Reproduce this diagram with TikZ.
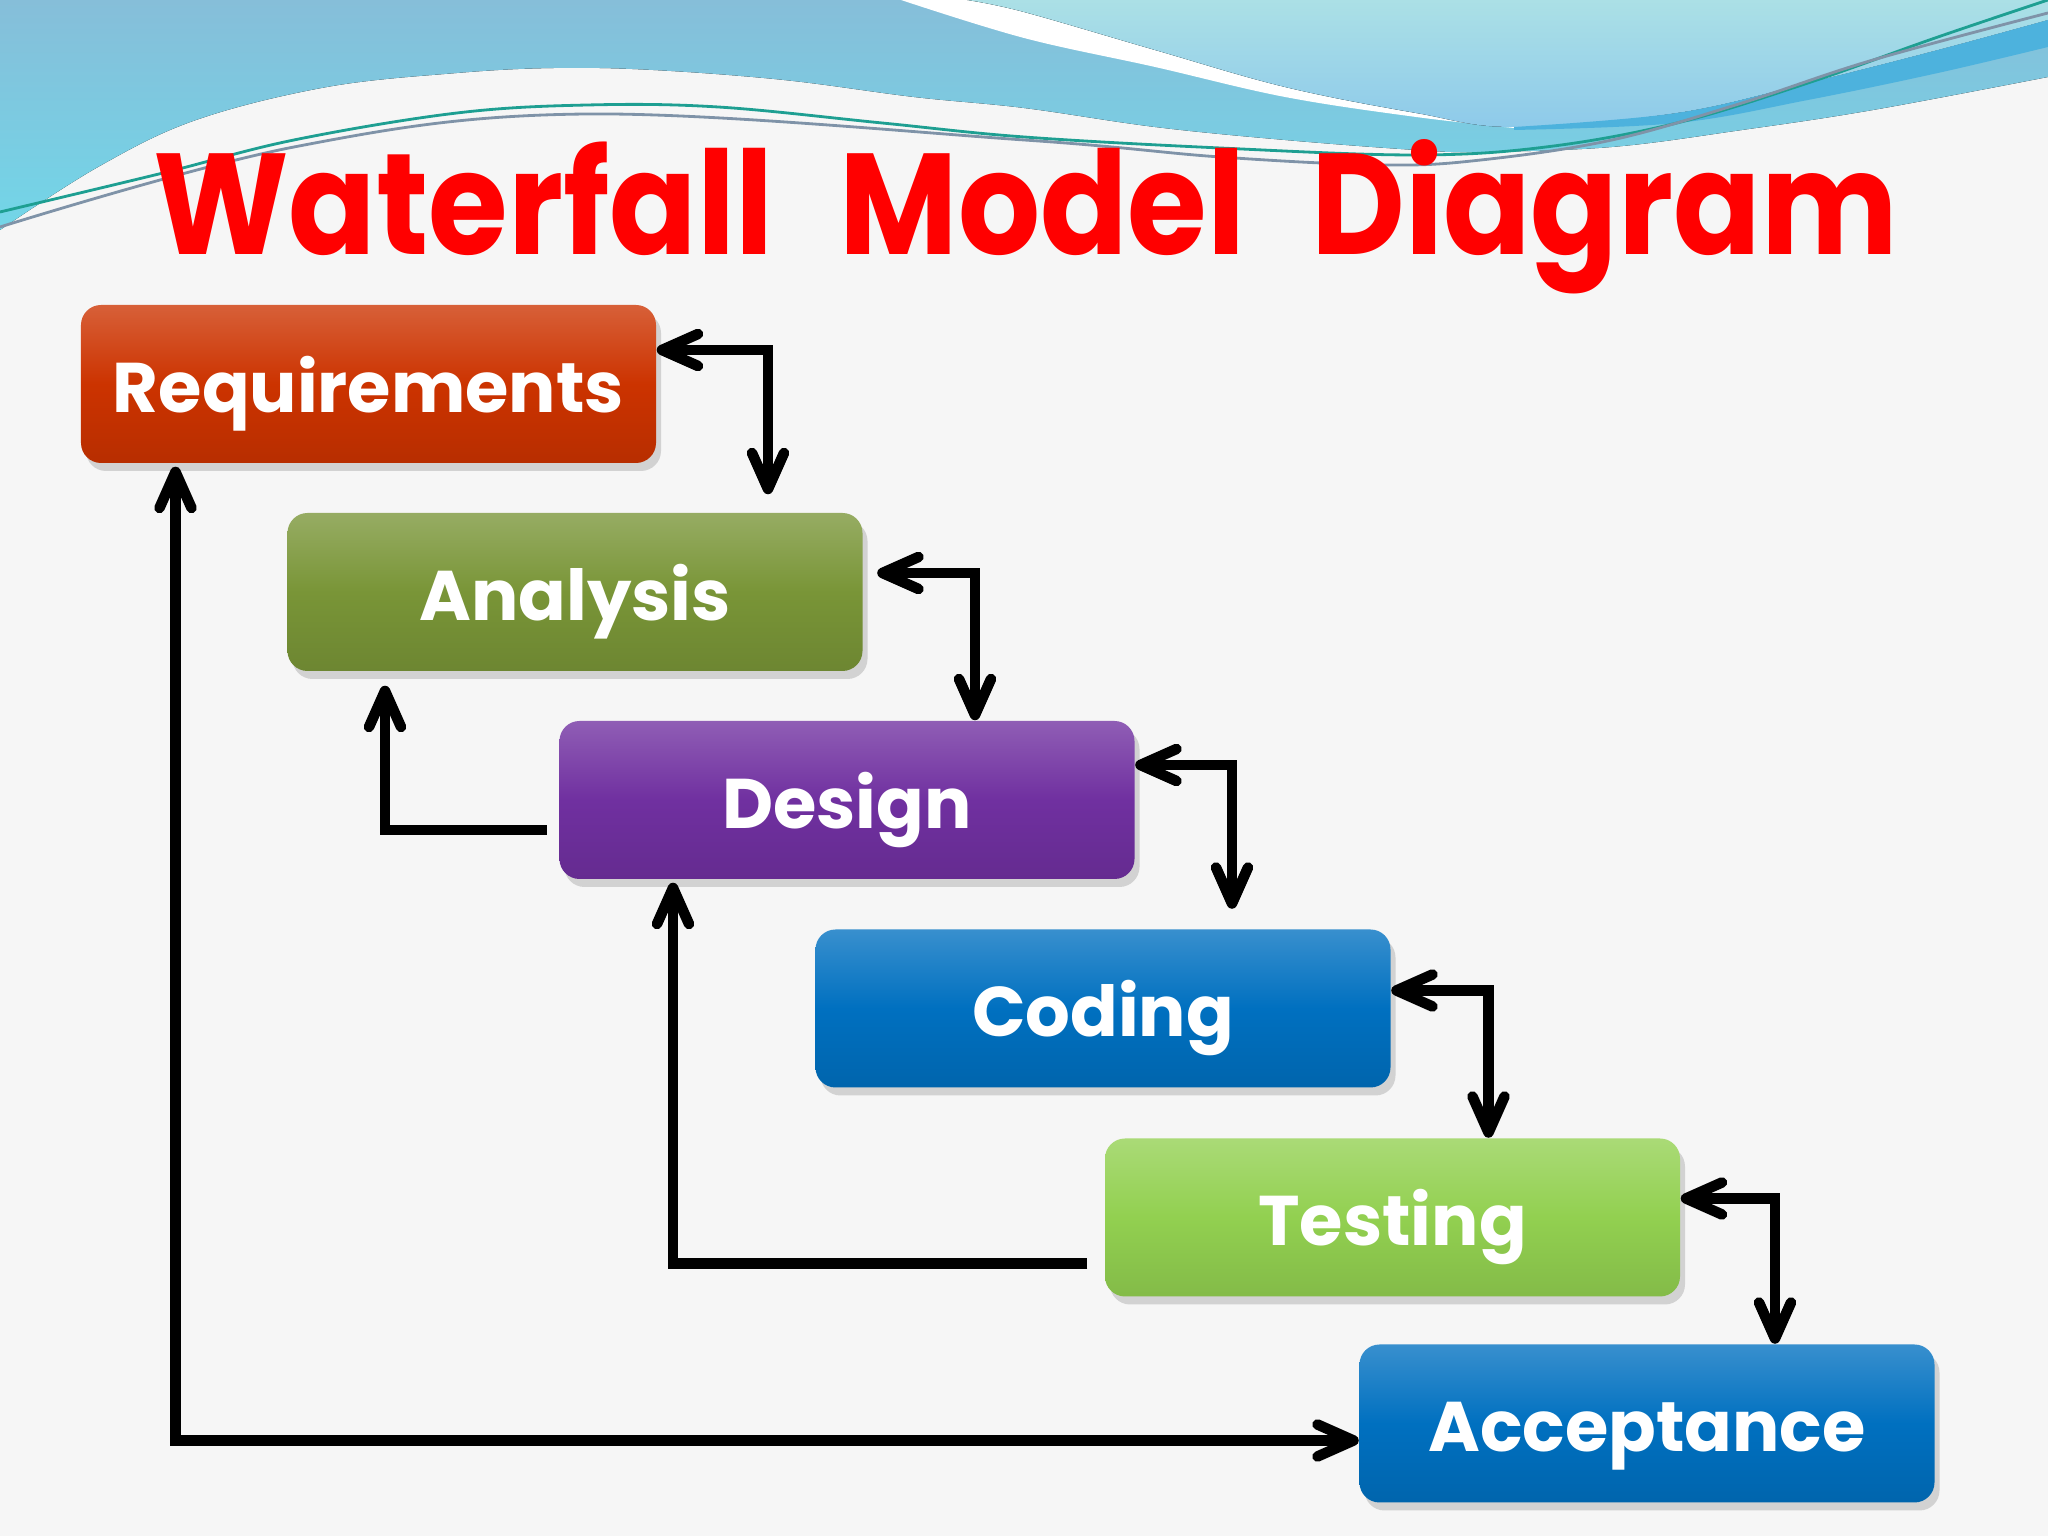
\documentclass[tikz,border=0pt]{standalone}
\usepackage{fontspec}
\setmainfont{Poppins}
\usepackage{graphicx}
\usetikzlibrary{arrows.meta,shadows}
\definecolor{pagebg}{HTML}{F6F6F6}
\definecolor{waveA}{HTML}{86BED9}
\definecolor{waveAlow}{HTML}{72D6E8}
\definecolor{waveB}{HTML}{ABE0E6}
\definecolor{waveBlow}{HTML}{8ECAEA}
\definecolor{waveband}{HTML}{4DB2DD}
\definecolor{teal}{HTML}{1E9F92}
\definecolor{steel}{HTML}{7F93A8}
\definecolor{titlered}{HTML}{FF0000}
\definecolor{reqred}{HTML}{CC3300}
\definecolor{anagreen}{HTML}{799537}
\definecolor{despurple}{HTML}{7030A0}
\definecolor{codblue}{HTML}{0070C0}
\definecolor{tesgreen}{HTML}{92D050}

\begin{document}
\begin{tikzpicture}[
  stage/.style={rounded corners=2mm, minimum width=57.5mm, minimum height=15.8mm,
    font=\fontsize{20}{24}\selectfont\bfseries, text=white, text height=16pt, text depth=0pt,
    top color=#1!78!white, bottom color=#1!90!black, middle color=#1,
    drop shadow={shadow xshift=0.5mm, shadow yshift=-0.8mm, opacity=0.3}},
  arr/.style={line width=3pt, -{Straight Barb[length=3.6mm,width=3.2mm,round]}},
  dbl/.style={arr, {Straight Barb[length=3.6mm,width=3.2mm,round]}-{Straight Barb[length=3.6mm,width=3.2mm,round]}}]
  % page and top waves
  \fill[pagebg] (0,0) rectangle (20.48,15.36);
  \useasboundingbox (0,0) rectangle (20.48,15.36);
  \fill[top color=waveA, bottom color=waveAlow] (0,15.36) -- (20.48,15.36) -- plot[smooth, tension=0.6] coordinates {
    (20.48,14.59) (18.73,14.26) (17.42,14.06) (16.12,13.89) (14.81,13.84) (14.16,13.86) (12.85,13.96)
    (11.55,14.09) (10.24,14.28) (9.14,14.39) (7.84,14.56) (6.53,14.66) (5.55,14.68) (4.57,14.63)
    (3.27,14.49) (1.96,14.16) (0.98,13.69) (0,13.06)} -- cycle;
  \fill[white] plot[smooth, tension=0.6] coordinates {
    (9.01,15.36) (10.24,14.98) (11.55,14.69) (12.85,14.39) (14.16,14.19) (15.14,14.08)}
    -- plot[smooth, tension=0.6] coordinates {
    (15.14,14.09) (14.16,14.23) (12.85,14.49) (11.55,14.86) (10.24,15.24) (9.67,15.36)} -- cycle;
  \fill[top color=waveB, bottom color=waveBlow] (9.67,15.36) -- plot[smooth, tension=0.6] coordinates {
    (9.67,15.36) (10.24,15.24) (11.55,14.86) (12.85,14.49) (14.16,14.23) (15.14,14.09)
    (16.77,14.23) (18.08,14.53) (19.38,14.86) (20.48,15.16)} -- (20.48,15.36) -- cycle;
  \fill[waveband] plot[smooth, tension=0.6] coordinates {
    (15.14,14.09) (16.77,14.23) (18.08,14.53) (19.38,14.86) (20.48,15.16)}
    -- plot[smooth, tension=0.6] coordinates {
    (20.48,14.89) (19.38,14.63) (18.08,14.36) (16.77,14.13) (15.14,14.06)} -- cycle;
  \draw[teal, line width=0.8pt] plot[smooth, tension=0.6] coordinates {
    (0,13.24) (1.63,13.63) (2.94,13.96) (4.57,14.23) (5.88,14.31) (7.18,14.29) (8.82,14.13)
    (10.24,13.99) (12.2,13.88) (14.16,13.81) (15.46,13.89) (16.77,14.13) (18.08,14.53) (19.38,14.99) (20.48,15.36)};
  \draw[steel, line width=0.8pt] plot[smooth, tension=0.6] coordinates {
    (0,13.09) (2.94,13.89) (5.88,14.22) (10.24,13.96) (12.2,13.79) (13.83,13.71) (14.81,13.76)
    (16.12,13.96) (17.42,14.33) (18.73,14.76) (20.48,15.23)};
  % title
  \node[text=titlered, anchor=base, inner sep=0pt] (title) at (10.255,12.81)
    {\resizebox{17.45cm}{1.15cm}{\bfseries Waterfall\hspace{0.3em} Model\hspace{0.3em} Diagram}};
  % stages
  \node[stage=reqred] (req) at (3.685,11.52) {Requirements};
  \node[stage=anagreen] (ana) at (5.75,9.44) {Analysis};
  \node[stage=despurple] (des) at (8.47,7.36) {Design};
  \node[stage=codblue] (cod) at (11.03,5.275) {Coding};
  \node[stage=tesgreen] (tes) at (13.925,3.185) {Testing};
  \node[stage=codblue] (acc) at (16.47,1.125) {Acceptance};
  % forward / back steps
  \draw[dbl] ([yshift=3.4mm]req.east) -| ([xshift=19.3mm,yshift=1.8mm]ana.north);
  \draw[dbl] ([xshift=1.4mm,yshift=1.9mm]ana.east) -| ([xshift=12.8mm]des.north);
  \draw[dbl] ([yshift=3.5mm]des.east) -| ([xshift=12.9mm,yshift=2mm]cod.north);
  \draw[dbl] ([yshift=1.8mm]cod.east) -| ([xshift=9.6mm]tes.north);
  \draw[dbl] ([yshift=1.9mm]tes.east) -| ([xshift=12.8mm]acc.north);
  % feedback loops
  \draw[arr] ([xshift=-1.2mm,yshift=-3mm]des.west) -| ([xshift=-19mm,yshift=-1.4mm]ana.south);
  \draw[arr] ([xshift=-1.7mm,yshift=-4.6mm]tes.west) -| ([xshift=-17.4mm,yshift=-0.3mm]des.south);
  \draw[dbl] ([yshift=-1.7mm]acc.west) -| ([xshift=-19.3mm,yshift=-0.3mm]req.south);
\end{tikzpicture}
\end{document}
